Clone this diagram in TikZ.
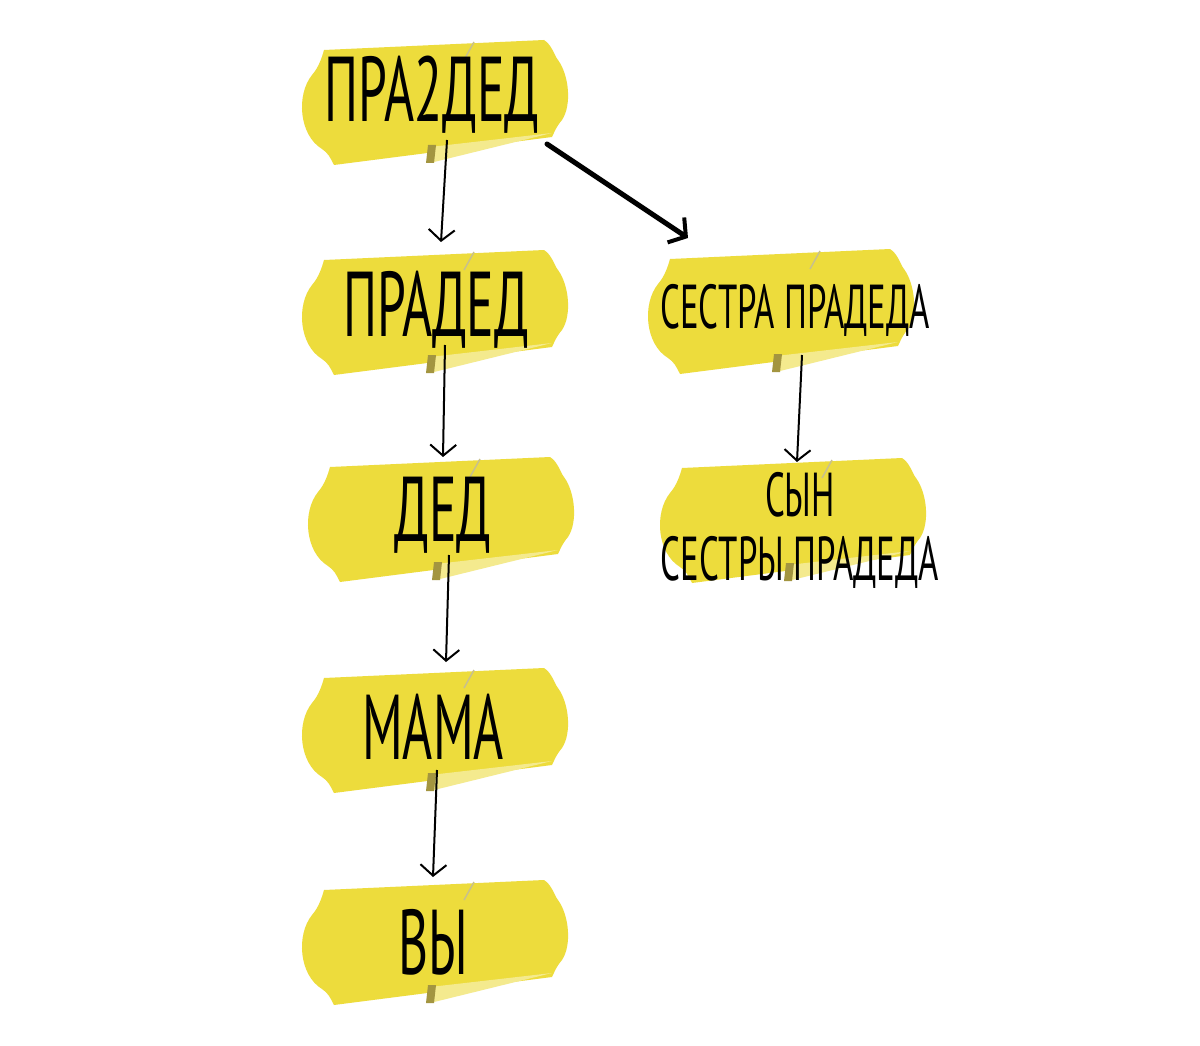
\documentclass[tikz,border=0pt]{standalone}
\usepackage{fontspec}
\setmainfont[FakeStretch=0.56]{PT Sans}
\usetikzlibrary{arrows.meta}
\definecolor{tagy}{HTML}{EDDC3C}
\definecolor{tagl}{HTML}{F4EA8E}
\definecolor{tagd}{HTML}{A39540}
\tikzset{
  lbl/.style={font=\fontsize{92}{92}\selectfont, text=black, inner sep=0},
  slbl/.style={font=\fontsize{62}{64}\selectfont, text=black, inner sep=0, align=center},
  conn/.style={draw=black, line width=2pt, -{Straight Barb[length=11pt,width=26pt,line width=2pt]}},
  thick conn/.style={draw=black, line width=5pt, line cap=round, -{Straight Barb[length=12pt,width=30pt,line width=4pt]}}
}
\newcommand{\yellowtag}[2]{%
  \begin{scope}[shift={(#1,#2)}]
    \fill[tagy] (-110,-55) -- (110,-65) .. controls (118,-60) and (120,-50) .. (124,-45)
      .. controls (135,-30) and (138,0) .. (128,15) .. controls (122,22) and (120,28) .. (118,32)
      -- (-100,60) .. controls (-104,52) and (-106,48) .. (-112,44)
      .. controls (-135,30) and (-138,-10) .. (-122,-30) .. controls (-115,-38) and (-112,-48) .. (-110,-55) -- cycle;
    \fill[tagl] (-4,42) -- (118,28) -- (-4,58) -- cycle;
    \fill[tagd] (-6,40) -- (2,40) -- (0,58) -- (-8,58) -- cycle;
    \draw[tagd!60, line width=1.5pt] (40,-63) -- (30,-45);
  \end{scope}}
\begin{document}
\begin{tikzpicture}[x=1pt,y=-1pt]
\useasboundingbox (0,0) rectangle (1200,1046);
\fill[white] (0,0) rectangle (1200,1046);
\yellowtag{434}{105}
\yellowtag{434}{315}
\yellowtag{440}{522}
\yellowtag{434}{733}
\yellowtag{434}{945}
\yellowtag{780}{314}
\yellowtag{792}{523}
\node[lbl] (p2) at (432,95) {ПРА2ДЕД};
\node[lbl] (pd) at (436,310) {ПРАДЕД};
\node[lbl] (d) at (443,515) {ДЕД};
\node[lbl] (m) at (433,727) {МАМА};
\node[lbl] (v) at (433,942) {ВЫ};
\node[slbl] (s) at (795,310) {СЕСТРА ПРАДЕДА};
\node[slbl] (sy) at (800,530) {СЫН\\СЕСТРЫ ПРАДЕДА};
\coordinate (a1) at (447,140); \coordinate (b1) at (441,242);
\coordinate (a2) at (445,345); \coordinate (b2) at (443,457);
\coordinate (a3) at (449,555); \coordinate (b3) at (446,662);
\coordinate (a4) at (437,770); \coordinate (b4) at (433,877);
\coordinate (a5) at (547,144); \coordinate (b5) at (688,238);
\coordinate (a6) at (802,355); \coordinate (b6) at (797,462);
\draw[conn] (a1) -- (b1);
\draw[conn] (a2) -- (b2);
\draw[conn] (a3) -- (b3);
\draw[conn] (a4) -- (b4);
\draw[thick conn] (a5) -- (b5);
\draw[conn] (a6) -- (b6);
\end{tikzpicture}
\end{document}
